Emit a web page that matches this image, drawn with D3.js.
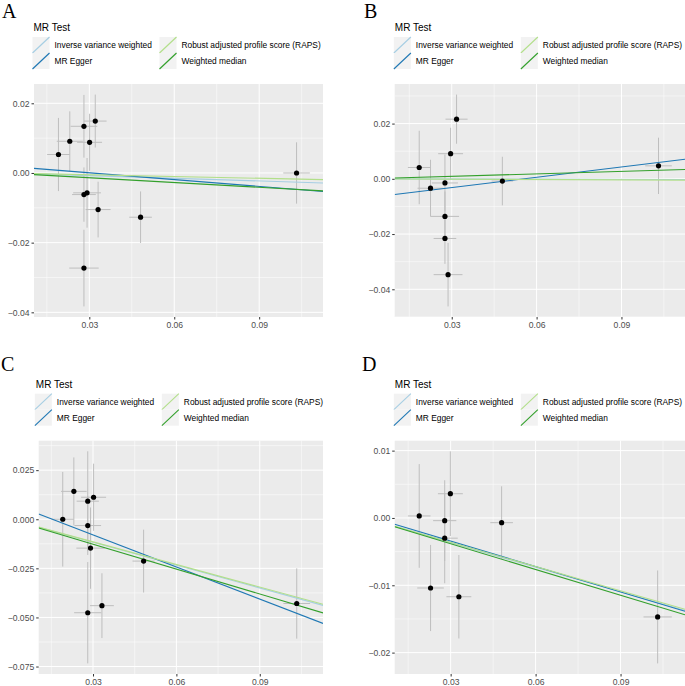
<!DOCTYPE html>
<html>
<head>
<meta charset="utf-8">
<script src="https://cdn.jsdelivr.net/npm/d3@7"></script>
<style>
  body { margin: 0; background: #fff; }
  svg { display: block; }
</style>
</head>
<body>
<svg id="chart" width="685" height="686"></svg>
<script>
// MR scatter plots, four panels

const methods = ["Inverse variance weighted", "MR Egger", "Robust adjusted profile score (RAPS)", "Weighted median"];
const methodColors = ["#a6cee3", "#1f78b4", "#b2df8a", "#33a02c"];
const xTicks = [0.03, 0.06, 0.09];

// panel A
const aBx  = [0.0191, 0.0231, 0.0281, 0.0321, 0.0301, 0.0281, 0.0292, 0.0331, 0.0481, 0.0281, 0.1032];
const aBy  = [0.0053, 0.0091, 0.0134, 0.0149, 0.0088, -0.0062, -0.0057, -0.0105, -0.0127, -0.0273, 0.0000];
const aSx  = [0.0040, 0.0046, 0.0047, 0.0040, 0.0044, 0.0042, 0.0049, 0.0044, 0.0040, 0.0052, 0.0047];
const aSy  = [0.0105, 0.0086, 0.0090, 0.0076, 0.0082, 0.0078, 0.0100, 0.0080, 0.0074, 0.0110, 0.0088];
const aSlope = [-0.0254, -0.0652, -0.0169, -0.0457];
const aIntercept = [0, 0.00201, 0, 0];
const aYTicks = [0.02, 0.00, -0.02, -0.04];

// panel B
const bBx  = [0.0185, 0.0225, 0.0276, 0.0296, 0.0317, 0.0276, 0.0276, 0.0287, 0.0479, 0.1031];
const bBy  = [0.0041, -0.0034, -0.0015, 0.0091, 0.0216, -0.0136, -0.0216, -0.0347, -0.0008, 0.0047];
const bSx  = [0.0040, 0.0046, 0.0046, 0.0044, 0.0039, 0.0050, 0.0040, 0.0051, 0.0038, 0.0047];
const bSy  = [0.0133, 0.0103, 0.0103, 0.0094, 0.0089, 0.0090, 0.0092, 0.0115, 0.0088, 0.0102];
const bSlope = [-0.002, 0.1244, -0.0043, 0.030];
const bIntercept = [0, -0.00689, 0, 0];
const bYTicks = [0.02, 0.00, -0.02, -0.04];

// panel C
const cBx  = [0.0191, 0.0231, 0.0281, 0.0302, 0.0281, 0.0291, 0.0281, 0.0332, 0.0482, 0.1033];
const cBy  = [0.0000, 0.0142, 0.0092, 0.0112, -0.0032, -0.0147, -0.0476, -0.0440, -0.0213, -0.0429];
const cSx  = [0.0040, 0.0046, 0.0040, 0.0045, 0.0048, 0.0051, 0.0049, 0.0043, 0.0040, 0.0048];
const cSy  = [0.0241, 0.0173, 0.0254, 0.0171, 0.0150, 0.0207, 0.0258, 0.0165, 0.0160, 0.0179];
const cSlope = [-0.389, -0.5448, -0.384, -0.423];
const cIntercept = [0, 0.0084, 0, 0];
const cYTicks = [0.025, 0.000, -0.025, -0.050, -0.075];

// panel D
const dBx  = [0.0189, 0.0229, 0.0279, 0.0279, 0.0299, 0.0329, 0.0480, 0.1031];
const dBy  = [0.0003, -0.0104, -0.0004, -0.0030, 0.0036, -0.0117, -0.0007, -0.0147];
const dSx  = [0.0040, 0.0047, 0.0041, 0.0046, 0.0044, 0.0044, 0.0040, 0.0050];
const dSy  = [0.0077, 0.0064, 0.0060, 0.0067, 0.0063, 0.0062, 0.0054, 0.0069];
const dSlope = [-0.122, -0.126, -0.1203, -0.1275];
const dIntercept = [0, 0.00035, 0, 0];
const dYTicks = [0.01, 0.00, -0.01, -0.02];

const zip = (bx, by, sx, sy) => bx.map((v, i) => ({ bx: v, by: by[i], sx: sx[i], sy: sy[i] }));

const panels = [
  { letter: "A", lx: 2, ly: 18, left: 34, top: 84, right: 323, bottom: 317,
    pts: zip(aBx, aBy, aSx, aSy), slope: aSlope, intercept: aIntercept, yTicks: aYTicks, fmt: ".2f" },
  { letter: "B", lx: 364, ly: 18, left: 394.7, top: 84, right: 685, bottom: 317,
    pts: zip(bBx, bBy, bSx, bSy), slope: bSlope, intercept: bIntercept, yTicks: bYTicks, fmt: ".2f" },
  { letter: "C", lx: 1, ly: 371, left: 38.7, top: 440.7, right: 323, bottom: 674,
    pts: zip(cBx, cBy, cSx, cSy), slope: cSlope, intercept: cIntercept, yTicks: cYTicks, fmt: ".3f" },
  { letter: "D", lx: 362, ly: 371, left: 394.7, top: 440.7, right: 685, bottom: 674,
    pts: zip(dBx, dBy, dSx, dSy), slope: dSlope, intercept: dIntercept, yTicks: dYTicks, fmt: ".2f" }
];

const svg = d3.select("#chart");
const minus = s => s.replace("-", "\u2212");
const sans = "'Liberation Sans', Arial, sans-serif";

function expand(lo, hi) {
  const pad = (hi - lo) * 0.05;
  return [lo - pad, hi + pad];
}

function minors(ticks, domain) {
  const t = ticks.slice().sort((a, b) => a - b);
  const step = t[1] - t[0];
  const out = [];
  for (let i = -1; i < t.length; i++) {
    const m = t[0] + step * i + step / 2;
    if (m > domain[0] && m < domain[1]) out.push(m);
  }
  return out;
}

function drawPanel(p) {
  const g = svg.append("g");

  const xDom = expand(d3.min(p.pts, d => d.bx - d.sx), d3.max(p.pts, d => d.bx + d.sx));
  const yDom = expand(d3.min(p.pts, d => d.by - d.sy), d3.max(p.pts, d => d.by + d.sy));
  const x = d3.scaleLinear().domain(xDom).range([p.left, p.right]);
  const y = d3.scaleLinear().domain(yDom).range([p.bottom, p.top]);

  // panel letter
  svg.append("text")
    .attr("x", p.lx).attr("y", p.ly)
    .style("font-family", "'Liberation Serif', 'Times New Roman', serif")
    .style("font-size", "20px")
    .text(p.letter);

  // legend
  const lx0 = (p.left + p.right) / 2 - 146;
  svg.append("text")
    .attr("x", lx0 + 1).attr("y", p.top - 53)
    .style("font-family", sans)
    .style("font-size", "10px")
    .text("MR Test");
  methods.forEach((m, i) => {
    const col = Math.floor(i / 2), row = i % 2;
    const kx = lx0 + col * 127, ky = p.top - 47 + row * 16;
    svg.append("rect").attr("x", kx).attr("y", ky).attr("width", 17).attr("height", 16)
      .attr("fill", "#F2F2F2");
    svg.append("line")
      .attr("x1", kx).attr("y1", ky + 16).attr("x2", kx + 17).attr("y2", ky)
      .attr("stroke", methodColors[i]).attr("stroke-width", 1.1);
    svg.append("text")
      .attr("x", kx + 22).attr("y", ky + 8).attr("dy", "0.35em")
      .style("font-family", sans)
      .style("font-size", "8.4px")
      .text(m);
  });

  // background + grid
  g.append("rect").attr("x", p.left).attr("y", p.top)
    .attr("width", p.right - p.left).attr("height", p.bottom - p.top).attr("fill", "#EBEBEB");

  g.selectAll(".xminor").data(minors(xTicks, xDom)).join("line")
    .attr("x1", d => x(d)).attr("x2", d => x(d)).attr("y1", p.top).attr("y2", p.bottom)
    .attr("stroke", "#fff").attr("stroke-width", 0.5);
  g.selectAll(".yminor").data(minors(p.yTicks, yDom)).join("line")
    .attr("y1", d => y(d)).attr("y2", d => y(d)).attr("x1", p.left).attr("x2", p.right)
    .attr("stroke", "#fff").attr("stroke-width", 0.5);
  g.selectAll(".xmajor").data(xTicks).join("line")
    .attr("x1", d => x(d)).attr("x2", d => x(d)).attr("y1", p.top).attr("y2", p.bottom)
    .attr("stroke", "#fff").attr("stroke-width", 1);
  g.selectAll(".ymajor").data(p.yTicks).join("line")
    .attr("y1", d => y(d)).attr("y2", d => y(d)).attr("x1", p.left).attr("x2", p.right)
    .attr("stroke", "#fff").attr("stroke-width", 1);

  // axes
  const fmt = d3.format(p.fmt);
  const xAxis = g.append("g").attr("transform", `translate(0, ${p.bottom})`)
    .call(d3.axisBottom(x).tickValues(xTicks).tickFormat(d => d3.format(".2f")(d)).tickSize(2.5).tickPadding(2));
  const yAxis = g.append("g").attr("transform", `translate(${p.left}, 0)`)
    .call(d3.axisLeft(y).tickValues(p.yTicks).tickFormat(d => minus(fmt(d))).tickSize(2.5).tickPadding(2));
  [xAxis, yAxis].forEach(a => {
    a.select(".domain").remove();
    a.selectAll(".tick line").attr("stroke", "#333333");
    a.selectAll(".tick text").attr("fill", "#4D4D4D")
      .style("font-family", sans).style("font-size", "8.6px");
  });

  // clipped marks
  const clipId = "clip" + p.letter;
  g.append("clipPath").attr("id", clipId).append("rect")
    .attr("x", p.left).attr("y", p.top).attr("width", p.right - p.left).attr("height", p.bottom - p.top);
  const inner = g.append("g").attr("clip-path", `url(#${clipId})`);

  inner.selectAll(".ev").data(p.pts).join("line")
    .attr("x1", d => x(d.bx)).attr("x2", d => x(d.bx))
    .attr("y1", d => y(d.by - d.sy)).attr("y2", d => y(d.by + d.sy))
    .attr("stroke", "#BEBEBE").attr("stroke-width", 1);
  inner.selectAll(".eh").data(p.pts).join("line")
    .attr("y1", d => y(d.by)).attr("y2", d => y(d.by))
    .attr("x1", d => x(d.bx - d.sx)).attr("x2", d => x(d.bx + d.sx))
    .attr("stroke", "#BEBEBE").attr("stroke-width", 1);

  methods.forEach((m, i) => {
    const f = v => p.intercept[i] + p.slope[i] * v;
    inner.append("line")
      .attr("x1", x(xDom[0])).attr("y1", y(f(xDom[0])))
      .attr("x2", x(xDom[1])).attr("y2", y(f(xDom[1])))
      .attr("stroke", methodColors[i]).attr("stroke-width", 1.1);
  });

  inner.selectAll(".pt").data(p.pts).join("circle")
    .attr("cx", d => x(d.bx)).attr("cy", d => y(d.by)).attr("r", 2.6)
    .attr("fill", "#000");
}

panels.forEach(drawPanel);
</script>
</body>
</html>
